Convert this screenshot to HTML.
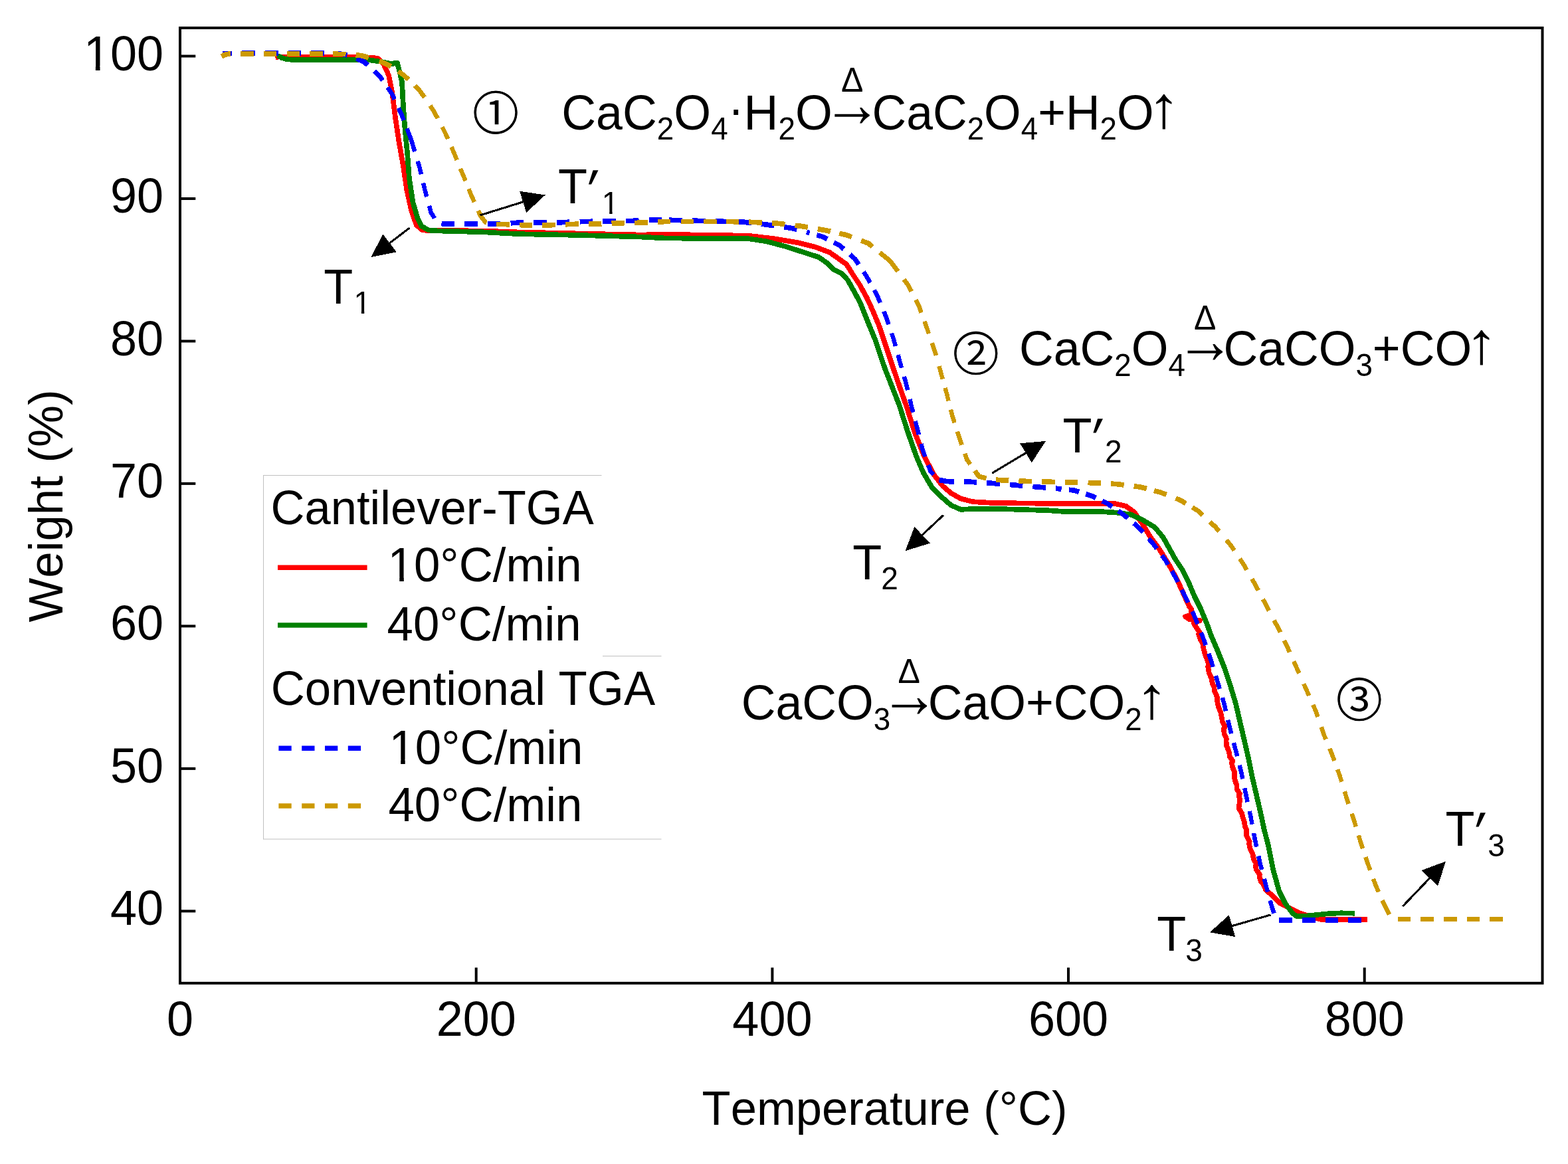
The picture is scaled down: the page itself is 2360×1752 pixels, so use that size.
<!DOCTYPE html>
<html lang="en"><head><meta charset="utf-8"><title>TGA curves</title>
<style>
html,body{margin:0;padding:0;background:#fff;}
body{width:2360px;height:1752px;overflow:hidden;}
svg{display:block;}
text{font-family:'Liberation Sans', sans-serif;fill:#000;font-kerning:none;font-variant-ligatures:none;}
.k{font-family:'Noto Sans CJK SC', 'Noto Sans CJK JP', 'WenQuanYi Zen Hei', 'DejaVu Sans', sans-serif;}
.c{fill:none;stroke-linejoin:round;stroke-linecap:butt;}
</style></head><body>
<svg width="2360" height="1752" viewBox="0 0 2360 1752">
<rect x="0" y="0" width="2360" height="1752" fill="#fff"/>
<defs>
<clipPath id="c72" clipPathUnits="userSpaceOnUse"><rect x="-72" y="-86.40" width="648.0" height="80.12"/><rect x="17.96" y="-6.78" width="6.66" height="35.58"/><rect x="40.04" y="-7.28" width="536.0" height="36.08"/></clipPath>
<clipPath id="c71" clipPathUnits="userSpaceOnUse"><rect x="-70.8" y="-84.96" width="637.2" height="78.77"/><rect x="17.65" y="-6.69" width="6.56" height="35.01"/><rect x="39.38" y="-7.19" width="527.0" height="35.51"/></clipPath>
<clipPath id="c46" clipPathUnits="userSpaceOnUse"><rect x="-46" y="-55.20" width="414.0" height="50.86"/><rect x="11.42" y="-4.84" width="4.37" height="23.24"/><rect x="25.58" y="-5.34" width="342.4" height="23.74"/></clipPath>
</defs>
<g id="curves" shape-rendering="crispEdges">
<polyline class="c" stroke="#ff0000" stroke-width="7.7" points="414.4,86.3 420.0,85.4 500.0,85.4 560.0,86.5 568.7,88.0 577.8,97.2 585.1,113.6 590.5,140.8 595.0,177.1 600.5,213.4 606.9,249.7 612.3,286.0 619.6,318.7 626.8,338.7 635.9,346.5 650.0,347.0 727.0,347.5 781.6,349.5 872.4,351.5 963.0,353.5 1000.0,353.0 1054.5,353.5 1127.0,354.8 1163.4,359.0 1199.7,365.0 1227.0,371.7 1248.8,379.9 1261.5,388.9 1274.2,398.0 1283.2,412.5 1294.1,428.9 1305.0,448.9 1314.1,468.8 1323.2,490.6 1330.5,512.4 1337.7,534.2 1345.0,556.0 1351.7,575.4 1364.4,611.7 1377.1,651.7 1391.6,688.0 1406.1,715.2 1418.9,731.5 1431.6,742.4 1446.1,750.6 1464.3,755.2 1495.1,757.0 1600.0,758.1 1678.1,758.1 1694.4,761.7 1707.1,770.8 1719.8,788.9 1730.7,807.1 1745.3,827.1 1759.8,850.7 1772.5,874.3 1781.6,894.3 1789.7,912.4 1793.3,917.2 1792.9,920.2 1794.0,925.0 1784.0,928.0 1790.0,932.0 1798.4,931.5 1799.5,934.5 1806.0,934.0 1797.0,938.0 1799.7,943.3 1805.6,951.8 1804.1,954.8 1807.0,963.2 1810.5,968.7 1810.5,971.7 1811.7,977.2 1814.6,987.8 1816.0,990.8 1819.1,1000.0 1818.1,1003.0 1819.9,1013.6 1823.6,1021.2 1823.9,1024.2 1825.3,1030.2 1827.1,1033.2 1828.1,1040.8 1832.5,1050.2 1831.8,1053.2 1833.5,1062.6 1837.4,1072.9 1838.1,1075.9 1839.9,1086.2 1843.8,1093.8 1841.9,1096.8 1842.6,1104.3 1845.9,1111.9 1845.5,1114.9 1846.2,1122.5 1848.9,1129.2 1850.0,1132.2 1850.8,1138.8 1855.3,1145.5 1853.8,1148.5 1855.3,1155.2 1857.9,1161.8 1857.9,1164.8 1858.0,1171.5 1860.0,1178.2 1861.5,1181.2 1861.7,1187.9 1865.9,1194.6 1864.8,1197.6 1866.2,1204.2 1864.5,1216.3 1869.5,1224.8 1869.9,1227.8 1872.6,1236.3 1874.3,1245.7 1876.2,1248.7 1876.3,1258.1 1880.7,1266.6 1880.0,1269.6 1881.7,1278.1 1885.1,1284.8 1885.9,1287.8 1887.2,1294.4 1891.5,1300.2 1889.7,1303.2 1890.8,1308.9 1895.9,1316.5 1895.5,1319.5 1898.0,1327.1 1902.1,1331.9 1903.2,1334.9 1905.3,1339.8 1916.2,1348.9 1927.1,1359.8 1941.6,1367.0 1956.2,1374.3 1972.5,1379.8 1990.0,1384.3 2057.8,1384.3"/>
<polyline class="c" stroke="#008000" stroke-width="7.7" points="418.0,83.6 424.0,87.0 430.7,89.0 440.0,90.0 554.0,90.0 572.4,92.7 590.5,96.3 594.0,95.0 597.8,94.5 600.5,104.5 605.0,122.6 606.9,158.9 609.6,195.3 613.2,231.6 615.9,267.9 621.4,304.2 628.6,329.0 634.1,340.0 645.0,346.5 660.0,347.5 727.0,349.3 781.6,352.2 872.4,354.0 963.0,356.5 1000.0,358.4 1090.8,359.3 1127.0,359.3 1154.3,363.5 1181.6,370.8 1208.8,379.5 1232.4,387.1 1245.1,396.2 1254.2,405.3 1266.9,411.6 1276.0,421.6 1285.1,438.0 1294.1,454.3 1301.4,472.5 1308.7,490.6 1317.7,512.4 1325.0,534.2 1332.3,556.0 1339.5,574.1 1353.5,609.9 1366.2,649.8 1378.9,686.2 1389.8,711.6 1402.5,733.4 1417.0,747.9 1431.6,760.6 1446.1,766.9 1464.3,766.0 1504.2,766.0 1576.8,768.2 1600.0,769.9 1659.9,770.2 1681.7,771.7 1701.7,774.4 1718.0,781.7 1738.0,793.5 1750.7,808.9 1759.8,825.3 1768.9,841.6 1779.8,857.9 1788.8,876.1 1797.9,897.9 1807.0,916.0 1816.1,937.8 1823.3,957.8 1831.7,977.2 1842.6,1004.5 1851.7,1031.7 1859.9,1058.9 1866.2,1086.2 1872.6,1113.4 1878.9,1140.7 1884.4,1167.9 1890.7,1195.1 1897.1,1222.4 1902.5,1247.8 1908.9,1272.6 1916.2,1308.9 1925.3,1341.6 1934.4,1359.8 1945.3,1374.3 1950.7,1378.8 1963.4,1378.8 1981.6,1377.0 1999.7,1375.2 2017.9,1374.3 2038.8,1374.7"/>
<polyline class="c" stroke="#0000ff" stroke-width="7.7" stroke-dasharray="19.6 15.1" stroke-dashoffset="5.3" points="335.0,80.5 420.0,80.0 500.0,80.0 515.0,81.5 527.0,83.6 548.8,93.6 555.1,99.4"/>
<polyline class="c" stroke="#0000ff" stroke-width="7.0" points="563.4,107.1 571.4,114.5 576.0,121.1"/>
<polyline class="c" stroke="#0000ff" stroke-width="6.7" points="583.2,131.5 589.6,140.8 593.8,149.7"/>
<polyline class="c" stroke="#0000ff" stroke-width="6.6" points="599.8,162.5 604.1,171.7 607.7,181.0"/>
<polyline class="c" stroke="#0000ff" stroke-width="6.5" points="612.5,193.5 618.7,209.8 624.3,228.1"/>
<polyline class="c" stroke="#0000ff" stroke-width="6.5" points="628.7,242.6 631.4,251.5 633.9,262.2"/>
<polyline class="c" stroke="#0000ff" stroke-width="6.5" points="637.0,275.4 639.5,286.0 642.2,296.1"/>
<polyline class="c" stroke="#0000ff" stroke-width="6.6" points="646.0,309.9 648.6,319.6 654.0,328.5"/>
<polyline class="c" stroke="#0000ff" stroke-width="7.7" stroke-dasharray="19.6 15.1" stroke-dashoffset="0" points="664.5,336.6 672.0,337.1 708.0,337.1 741.0,337.1 778.0,335.3 812.0,335.3 845.0,334.7 878.0,333.5 916.0,333.0 950.0,332.5 981.0,331.1 996.0,331.2"/>
<polyline class="c" stroke="#0000ff" stroke-width="7.7" stroke-dasharray="19.6 15.1" stroke-dashoffset="0" points="1007.3,331.3 1014.5,331.4 1081.7,333.2 1116.0,333.9 1140.0,336.3 1167.0,339.9 1192.5,343.6 1211.5,348.6 1218.5,350.6"/>
<polyline class="c" stroke="#0000ff" stroke-width="7.5" points="1229.3,353.8 1237.9,356.3 1244.9,359.8"/>
<polyline class="c" stroke="#0000ff" stroke-width="7.3" points="1254.9,364.8 1263.3,369.0 1270.0,374.9"/>
<polyline class="c" stroke="#0000ff" stroke-width="7.0" points="1279.2,383.0 1286.9,389.8 1292.3,398.0"/>
<polyline class="c" stroke="#0000ff" stroke-width="6.7" points="1299.7,409.1 1305.0,417.1 1309.6,425.5"/>
<polyline class="c" stroke="#0000ff" stroke-width="6.6" points="1315.8,436.7 1320.5,445.2 1324.8,455.7"/>
<polyline class="c" stroke="#0000ff" stroke-width="6.6" points="1330.2,468.7 1334.0,477.9 1337.5,488.3"/>
<polyline class="c" stroke="#0000ff" stroke-width="6.5" points="1342.0,501.6 1345.0,510.6 1347.9,521.0"/>
<polyline class="c" stroke="#0000ff" stroke-width="6.5" points="1351.5,534.1 1354.0,543.3 1357.0,553.7"/>
<polyline class="c" stroke="#0000ff" stroke-width="6.5" points="1360.8,566.8 1363.5,576.3 1366.1,587.2"/>
<polyline class="c" stroke="#0000ff" stroke-width="6.5" points="1369.4,600.9 1371.7,610.8 1374.3,620.7"/>
<polyline class="c" stroke="#0000ff" stroke-width="6.5" points="1377.7,633.8 1380.4,644.4 1382.9,654.4"/>
<polyline class="c" stroke="#0000ff" stroke-width="6.5" points="1386.4,668.2 1388.9,678.0 1392.4,687.4"/>
<polyline class="c" stroke="#0000ff" stroke-width="6.7" points="1397.1,700.0 1400.7,709.8 1405.4,714.5"/>
<polyline class="c" stroke="#0000ff" stroke-width="7.7" points="1413.4,722.5 1425.2,724.6 1435.6,724.8"/>
<polyline class="c" stroke="#0000ff" stroke-width="7.7" stroke-dasharray="19.6 15.1" stroke-dashoffset="0" points="1450.6,725.1 1458.8,725.2 1488.8,727.0 1522.4,729.7 1555.0,732.5 1589.5,735.2 1597.6,736.1"/>
<polyline class="c" stroke="#0000ff" stroke-width="7.6" points="1608.9,737.2 1617.2,738.1 1624.2,740.4"/>
<polyline class="c" stroke="#0000ff" stroke-width="7.5" points="1634.2,743.6 1642.7,746.3 1649.3,749.5"/>
<polyline class="c" stroke="#0000ff" stroke-width="7.4" points="1659.1,754.2 1667.2,758.1 1673.8,762.7"/>
<polyline class="c" stroke="#0000ff" stroke-width="7.2" points="1683.1,769.1 1690.8,774.4 1697.4,779.9"/>
<polyline class="c" stroke="#0000ff" stroke-width="7.1" points="1706.5,787.6 1713.5,793.5 1720.3,801.2"/>
<polyline class="c" stroke="#0000ff" stroke-width="6.9" points="1728.9,810.8 1735.3,818.0 1741.0,825.7"/>
<polyline class="c" stroke="#0000ff" stroke-width="6.8" points="1748.7,835.9 1754.3,843.4 1758.0,849.8"/>
<polyline class="c" stroke="#0000ff" stroke-width="6.7" points="1763.7,859.5 1768.0,867.0 1772.8,876.2"/>
<polyline class="c" stroke="#0000ff" stroke-width="6.7" points="1778.6,887.5 1782.5,895.2 1788.1,907.1"/>
<polyline class="c" stroke="#0000ff" stroke-width="6.6" points="1794.3,920.2 1797.9,927.8 1802.5,939.2"/>
<polyline class="c" stroke="#0000ff" stroke-width="6.6" points="1807.6,952.1 1810.8,960.0 1814.7,971.1"/>
<polyline class="c" stroke="#0000ff" stroke-width="6.5" points="1819.2,983.8 1822.6,993.6 1825.7,1003.8"/>
<polyline class="c" stroke="#0000ff" stroke-width="6.5" points="1829.8,1017.3 1832.6,1026.3 1835.8,1036.9"/>
<polyline class="c" stroke="#0000ff" stroke-width="6.5" points="1839.7,1050.1 1842.6,1059.8 1845.0,1070.2"/>
<polyline class="c" stroke="#0000ff" stroke-width="6.5" points="1848.2,1083.7 1850.4,1093.4 1853.3,1104.3"/>
<polyline class="c" stroke="#0000ff" stroke-width="6.5" points="1856.9,1118.0 1859.5,1127.9 1862.1,1138.2"/>
<polyline class="c" stroke="#0000ff" stroke-width="6.5" points="1865.5,1151.8 1868.0,1161.5 1870.3,1172.4"/>
<polyline class="c" stroke="#0000ff" stroke-width="6.5" points="1873.2,1186.3 1875.3,1196.0 1877.7,1207.1"/>
<polyline class="c" stroke="#0000ff" stroke-width="6.4" points="1880.7,1220.9 1882.6,1230.0 1884.6,1240.8"/>
<polyline class="c" stroke="#0000ff" stroke-width="6.5" points="1887.1,1254.0 1889.0,1264.5 1891.2,1274.7"/>
<polyline class="c" stroke="#0000ff" stroke-width="6.5" points="1894.2,1288.5 1896.2,1298.0 1899.1,1309.1"/>
<polyline class="c" stroke="#0000ff" stroke-width="6.5" points="1902.7,1322.8 1905.3,1332.5 1908.0,1342.4"/>
<polyline class="c" stroke="#0000ff" stroke-width="6.5" points="1911.7,1355.4 1914.4,1365.2 1917.6,1374.7"/>
<polyline class="c" stroke="#0000ff" stroke-width="7.7" stroke-dasharray="19.6 15.1" stroke-dashoffset="0" points="1925.3,1385.2 2054.2,1385.2"/>
<polyline class="c" stroke="#cc9900" stroke-width="7.7" stroke-dasharray="19.6 15.1" stroke-dashoffset="5.3" points="333.6,85.0 338.0,82.5 345.0,80.9 400.0,80.9 480.0,80.9 518.0,81.5 543.3,83.6 560.2,88.0"/>
<polyline class="c" stroke="#cc9900" stroke-width="7.5" points="570.8,91.9 579.6,95.4 588.6,100.2"/>
<polyline class="c" stroke="#cc9900" stroke-width="7.2" points="599.6,107.2 606.9,112.6 614.9,119.6"/>
<polyline class="c" stroke="#cc9900" stroke-width="6.9" points="624.4,128.7 631.4,136.2 639.0,146.6"/>
<polyline class="c" stroke="#cc9900" stroke-width="6.7" points="647.5,159.0 653.2,168.0 658.8,178.2"/>
<polyline class="c" stroke="#cc9900" stroke-width="6.6" points="665.7,191.3 670.4,200.7 674.1,209.2"/>
<polyline class="c" stroke="#cc9900" stroke-width="6.6" points="679.4,221.3 684.0,231.6 687.6,240.8"/>
<polyline class="c" stroke="#cc9900" stroke-width="6.6" points="692.9,253.8 697.1,263.6 700.6,272.2"/>
<polyline class="c" stroke="#cc9900" stroke-width="6.6" points="705.5,284.5 709.5,294.4 713.9,304.2"/>
<polyline class="c" stroke="#cc9900" stroke-width="6.8" points="719.8,317.2 723.5,325.3 730.7,334.4 732.5,335.0"/>
<polyline class="c" stroke="#cc9900" stroke-width="7.7" stroke-dasharray="19.6 15.1" stroke-dashoffset="0" points="747.1,337.5 756.0,337.4 790.0,338.9 825.0,338.9 860.0,337.4 894.0,337.1 929.0,335.8 963.0,335.3 994.0,334.0 1000.0,333.6 1081.3,333.6"/>
<polyline class="c" stroke="#cc9900" stroke-width="7.7" stroke-dasharray="19.6 15.1" stroke-dashoffset="0" points="1092.6,333.6 1101.7,333.6 1136.0,334.5 1170.7,336.3 1205.0,340.3 1240.6,346.3 1252.2,348.8"/>
<polyline class="c" stroke="#cc9900" stroke-width="7.5" stroke-dasharray="19.6 15.1" stroke-dashoffset="0" points="1263.2,351.3 1273.3,353.5 1306.9,366.2 1315.3,373.0"/>
<polyline class="c" stroke="#cc9900" stroke-width="7.0" points="1324.1,380.1 1339.5,392.6 1351.5,408.5"/>
<polyline class="c" stroke="#cc9900" stroke-width="6.8" points="1360.5,420.6 1366.8,428.9 1371.8,438.6"/>
<polyline class="c" stroke="#cc9900" stroke-width="6.6" points="1378.3,451.3 1383.1,460.7 1386.6,470.5"/>
<polyline class="c" stroke="#cc9900" stroke-width="6.5" stroke-dasharray="19.6 15.1" stroke-dashoffset="0" points="1391.4,483.6 1394.9,493.3 1408.0,531.8 1410.3,540.1"/>
<polyline class="c" stroke="#cc9900" stroke-width="6.5" points="1413.4,551.1 1416.1,560.9 1418.8,570.7"/>
<polyline class="c" stroke="#cc9900" stroke-width="6.5" points="1422.5,583.8 1425.2,593.6 1427.6,603.3"/>
<polyline class="c" stroke="#cc9900" stroke-width="6.5" points="1430.9,616.4 1433.4,626.2 1436.7,636.4"/>
<polyline class="c" stroke="#cc9900" stroke-width="6.5" points="1440.9,649.6 1443.9,658.9 1447.6,669.6"/>
<polyline class="c" stroke="#cc9900" stroke-width="6.7" points="1452.2,682.9 1455.2,691.6 1460.3,698.7"/>
<polyline class="c" stroke="#cc9900" stroke-width="7.3" points="1467.3,708.5 1473.3,717.0 1484.4,720.0"/>
<polyline class="c" stroke="#cc9900" stroke-width="7.7" stroke-dasharray="19.6 15.1" stroke-dashoffset="0" points="1498.8,722.1 1507.8,722.8 1542.3,724.3 1576.8,725.2 1613.1,726.1 1647.2,726.8 1681.7,728.7 1716.2,733.0 1726.0,735.6"/>
<polyline class="c" stroke="#cc9900" stroke-width="7.5" stroke-dasharray="19.6 15.1" stroke-dashoffset="0" points="1737.0,738.5 1747.1,741.2 1776.1,752.6 1784.8,757.9"/>
<polyline class="c" stroke="#cc9900" stroke-width="7.1" stroke-dasharray="19.6 15.1" stroke-dashoffset="0" points="1794.5,763.7 1803.4,769.0 1829.7,793.5 1838.6,804.2"/>
<polyline class="c" stroke="#cc9900" stroke-width="6.8" stroke-dasharray="19.6 15.1" stroke-dashoffset="0" points="1845.9,812.9 1852.4,820.7 1872.4,850.7 1878.6,861.5"/>
<polyline class="c" stroke="#cc9900" stroke-width="6.7" stroke-dasharray="19.6 15.1" stroke-dashoffset="0" points="1884.3,871.4 1889.6,880.6 1906.0,911.5 1912.4,923.7"/>
<polyline class="c" stroke="#cc9900" stroke-width="6.7" points="1917.7,933.7 1922.3,942.4 1926.9,951.8"/>
<polyline class="c" stroke="#cc9900" stroke-width="6.6" stroke-dasharray="19.6 15.1" stroke-dashoffset="0" points="1932.8,963.9 1937.9,974.5 1952.5,1007.2 1957.7,1018.8"/>
<polyline class="c" stroke="#cc9900" stroke-width="6.6" stroke-dasharray="19.6 15.1" stroke-dashoffset="0" points="1962.2,1029.2 1967.0,1039.9 1980.6,1070.7 1985.0,1083.7"/>
<polyline class="c" stroke="#cc9900" stroke-width="6.6" stroke-dasharray="19.6 15.1" stroke-dashoffset="0" points="1988.7,1094.4 1992.4,1105.2 2005.1,1136.1 2009.2,1147.6"/>
<polyline class="c" stroke="#cc9900" stroke-width="6.5" stroke-dasharray="19.6 15.1" stroke-dashoffset="0" points="2013.1,1158.2 2016.9,1168.8 2026.9,1201.5 2031.0,1213.7"/>
<polyline class="c" stroke="#cc9900" stroke-width="6.5" points="2034.6,1224.5 2037.9,1234.5 2040.8,1244.2"/>
<polyline class="c" stroke="#cc9900" stroke-width="6.5" points="2044.8,1257.4 2047.8,1267.2 2051.1,1277.0"/>
<polyline class="c" stroke="#cc9900" stroke-width="6.5" points="2055.4,1290.1 2058.7,1299.9 2062.3,1309.8"/>
<polyline class="c" stroke="#cc9900" stroke-width="6.6" points="2067.0,1322.8 2070.5,1332.5 2074.9,1342.4"/>
<polyline class="c" stroke="#cc9900" stroke-width="6.7" points="2080.7,1355.3 2085.1,1365.2 2091.1,1376.4"/>
<polyline class="c" stroke="#cc9900" stroke-width="7.7" stroke-dasharray="19.6 15.1" stroke-dashoffset="0" points="2103.6,1383.4 2261.7,1383.4"/>
</g>
<g id="axes" stroke="#000" fill="none" stroke-linecap="butt">
<rect x="271.0" y="42.0" width="2050.5" height="1437.8" stroke-width="4"/>
<line x1="271.0" y1="84.5" x2="294.3" y2="84.5" stroke-width="4"/>
<line x1="271.0" y1="299.0" x2="294.3" y2="299.0" stroke-width="4"/>
<line x1="271.0" y1="513.5" x2="294.3" y2="513.5" stroke-width="4"/>
<line x1="271.0" y1="727.9" x2="294.3" y2="727.9" stroke-width="4"/>
<line x1="271.0" y1="942.4" x2="294.3" y2="942.4" stroke-width="4"/>
<line x1="271.0" y1="1156.9" x2="294.3" y2="1156.9" stroke-width="4"/>
<line x1="271.0" y1="1371.4" x2="294.3" y2="1371.4" stroke-width="4"/>
<line x1="716.7" y1="1479.8" x2="716.7" y2="1456.4" stroke-width="4"/>
<line x1="1162.4" y1="1479.8" x2="1162.4" y2="1456.4" stroke-width="4"/>
<line x1="1608.0" y1="1479.8" x2="1608.0" y2="1456.4" stroke-width="4"/>
<line x1="2053.7" y1="1479.8" x2="2053.7" y2="1456.4" stroke-width="4"/>
</g>
<g id="ticklabels">
<text transform="translate(125.9,105.5) scale(1.0,1.04)" font-size="72" text-anchor="start" clip-path="url(#c72)">100</text>
<text transform="translate(246.0,320.0) scale(1.0,1.04)" font-size="72" text-anchor="end">90</text>
<text transform="translate(246.0,534.5) scale(1.0,1.04)" font-size="72" text-anchor="end">80</text>
<text transform="translate(246.0,748.9) scale(1.0,1.04)" font-size="72" text-anchor="end">70</text>
<text transform="translate(246.0,963.4) scale(1.0,1.04)" font-size="72" text-anchor="end">60</text>
<text transform="translate(246.0,1177.9) scale(1.0,1.04)" font-size="72" text-anchor="end">50</text>
<text transform="translate(246.0,1392.4) scale(1.0,1.04)" font-size="72" text-anchor="end">40</text>
<text transform="translate(271.0,1558.5) scale(1.0,1.04)" font-size="72" text-anchor="middle">0</text>
<text transform="translate(716.7,1558.5) scale(1.0,1.04)" font-size="72" text-anchor="middle">200</text>
<text transform="translate(1162.4,1558.5) scale(1.0,1.04)" font-size="72" text-anchor="middle">400</text>
<text transform="translate(1608.0,1558.5) scale(1.0,1.04)" font-size="72" text-anchor="middle">600</text>
<text transform="translate(2053.7,1558.5) scale(1.0,1.04)" font-size="72" text-anchor="middle">800</text>
</g>
<g id="titles">
<text transform="translate(1331.5,1693.1) scale(0.997,1.03)" font-size="70.8" text-anchor="middle">Temperature (°C)</text>
<text transform="translate(94.1,761.4) rotate(-90) scale(1.0,1.03)" font-size="70.8" text-anchor="middle">Weight (%)</text>
</g>
<g id="legend">
<rect x="397" y="715.5" width="508" height="300" fill="#fff" stroke="none"/>
<rect x="397" y="987.5" width="598.5" height="275.5" fill="#fff" stroke="none"/>
<g stroke="#c0c0c0" stroke-width="1" fill="none">
<line x1="396.5" y1="715.5" x2="905.5" y2="715.5"/>
<line x1="396.5" y1="715" x2="396.5" y2="1263.5"/>
<line x1="396.5" y1="1263" x2="995.5" y2="1263"/>
<line x1="907" y1="987.5" x2="995.5" y2="987.5"/>
</g>
<line x1="418" y1="854.2" x2="552.6" y2="854.2" stroke="#ff0000" stroke-width="7.4"/>
<line x1="418" y1="941" x2="552.6" y2="941" stroke="#008000" stroke-width="7.4"/>
<line x1="419.4" y1="1126.2" x2="552.6" y2="1126.2" stroke="#0000ff" stroke-width="7.4" stroke-dasharray="19.3 15.5"/>
<line x1="419.4" y1="1213" x2="552.6" y2="1213" stroke="#cc9900" stroke-width="7.4" stroke-dasharray="19.3 15.5"/>
<text transform="translate(407.5,789.2) scale(0.997,1.03)" font-size="70.8" text-anchor="start">Cantilever-TGA</text>
<text transform="translate(583.6,874.9) scale(1.0,1.03)" font-size="70.8" text-anchor="start" clip-path="url(#c71)">10°C/min</text>
<text transform="translate(582.6,963.5) scale(1.0,1.03)" font-size="70.8" text-anchor="start">40°C/min</text>
<text transform="translate(407.7,1060.9) scale(1.0,1.03)" font-size="70.8" text-anchor="start">Conventional TGA</text>
<text transform="translate(585.5,1149.5) scale(1.0,1.03)" font-size="70.8" text-anchor="start" clip-path="url(#c71)">10°C/min</text>
<text transform="translate(584.5,1235.8) scale(1.0,1.03)" font-size="70.8" text-anchor="start">40°C/min</text>
</g>
<g id="arrows" shape-rendering="crispEdges">
<line x1="722.6" y1="324.0" x2="789.1" y2="303.3" stroke="#000" stroke-width="3.1"/>
<polygon points="820.6,293.5 792.2,320.1 782.1,287.7" fill="#000"/>
<line x1="616.6" y1="342.9" x2="585.0" y2="367.0" stroke="#000" stroke-width="3.1"/>
<polygon points="558.7,387.0 576.2,352.3 596.8,379.3" fill="#000"/>
<line x1="1493.2" y1="712.2" x2="1545.7" y2="680.8" stroke="#000" stroke-width="3.1"/>
<polygon points="1574.0,663.9 1552.7,696.4 1535.2,667.3" fill="#000"/>
<line x1="1420.0" y1="775.3" x2="1386.6" y2="806.6" stroke="#000" stroke-width="3.1"/>
<polygon points="1362.5,829.2 1376.4,792.9 1399.7,817.7" fill="#000"/>
<line x1="1912.4" y1="1377.0" x2="1852.6" y2="1394.2" stroke="#000" stroke-width="3.1"/>
<polygon points="1820.9,1403.3 1849.8,1377.3 1859.2,1410.0" fill="#000"/>
<line x1="2111.2" y1="1364.2" x2="2153.2" y2="1320.3" stroke="#000" stroke-width="3.1"/>
<polygon points="2176.0,1296.5 2164.1,1333.5 2139.5,1310.0" fill="#000"/>
</g>
<g id="tlabels">
<text transform="translate(840.0,306.4) scale(1.0,1.04)" font-size="72" text-anchor="start">T</text>
<text transform="translate(875.5,313.9) skewX(-10.8) scale(1.150,1.167)" font-size="72">′</text>
<text transform="translate(905.8,321.9) scale(1.0,1.04)" font-size="46" text-anchor="start" clip-path="url(#c46)">1</text>
<text transform="translate(487.3,456.8) scale(1.0,1.04)" font-size="72" text-anchor="start">T</text>
<text transform="translate(532.5,472.3) scale(1.0,1.04)" font-size="46" text-anchor="start" clip-path="url(#c46)">1</text>
<text transform="translate(1599.5,680.6) scale(1.0,1.04)" font-size="72" text-anchor="start">T</text>
<text transform="translate(1635.0,688.1) skewX(-10.8) scale(1.150,1.167)" font-size="72">′</text>
<text transform="translate(1663.1,696.1) scale(1.0,1.04)" font-size="46" text-anchor="start">2</text>
<text transform="translate(1283.2,871.8) scale(1.0,1.04)" font-size="72" text-anchor="start">T</text>
<text transform="translate(1326.2,887.3) scale(1.0,1.04)" font-size="46" text-anchor="start">2</text>
<text transform="translate(1741.3,1431.0) scale(1.0,1.04)" font-size="72" text-anchor="start">T</text>
<text transform="translate(1784.3,1446.5) scale(1.0,1.04)" font-size="46" text-anchor="start">3</text>
<text transform="translate(2175.6,1273.0) scale(1.0,1.04)" font-size="72" text-anchor="start">T</text>
<text transform="translate(2211.1,1280.5) skewX(-10.8) scale(1.150,1.167)" font-size="72">′</text>
<text transform="translate(2239.2,1288.5) scale(1.0,1.04)" font-size="46" text-anchor="start">3</text>
</g>
<g id="formulas">
<text class="k" x="711.2" y="195.7" font-size="69.7">①</text>
<circle cx="746.1" cy="169.2" r="30.8" fill="none" stroke="#000" stroke-width="3.3"/>
<text transform="translate(845.3,194.6) scale(0.9966,1.04)" font-size="72">CaC<tspan font-size="46" dy="14.9">2</tspan><tspan dy="-14.9">O</tspan><tspan font-size="46" dy="14.9">4</tspan><tspan dy="-14.9"></tspan><tspan dy="-19.9">·</tspan><tspan dy="5">H</tspan><tspan font-size="46" dy="14.9">2</tspan><tspan dy="-14.9">O</tspan></text>
<text transform="translate(1238.2,190.0) scale(1,1.12)" font-size="88.7">→</text>
<text transform="translate(1266.1,138.3) scale(1,1.02)" font-size="50">Δ</text>
<text transform="translate(1312.6,194.6) scale(0.9936,1.04)" font-size="72">CaC<tspan font-size="46" dy="14.9">2</tspan><tspan dy="-14.9">O</tspan><tspan font-size="46" dy="14.9">4</tspan><tspan dy="-14.9">+H</tspan><tspan font-size="46" dy="14.9">2</tspan><tspan dy="-14.9">O</tspan></text>
<text transform="translate(1726.9,192.0) scale(1.12,1)" font-size="88.7">↑</text>
<text class="k" x="1433.9" y="558.4" font-size="69.7">②</text>
<circle cx="1468.8" cy="531.9" r="30.8" fill="none" stroke="#000" stroke-width="3.3"/>
<text transform="translate(1533.9,550.0) scale(0.995,1.04)" font-size="72">CaC<tspan font-size="46" dy="14.9">2</tspan><tspan dy="-14.9">O</tspan><tspan font-size="46" dy="14.9">4</tspan><tspan dy="-14.9"></tspan></text>
<text transform="translate(1769.4,545.5) scale(1,1.12)" font-size="88.7">→</text>
<text transform="translate(1796.9,496.4) scale(1,1.02)" font-size="50">Δ</text>
<text transform="translate(1841.4,550.0) scale(0.995,1.04)" font-size="72">CaCO<tspan font-size="46" dy="14.9">3</tspan><tspan dy="-14.9">+CO</tspan></text>
<text transform="translate(2205.1,547.4) scale(1.12,1)" font-size="88.7">↑</text>
<text class="k" x="2011.1" y="1079.4" font-size="69.7">③</text>
<circle cx="2046.0" cy="1052.9" r="30.8" fill="none" stroke="#000" stroke-width="3.3"/>
<text transform="translate(1115.7,1083.3) scale(0.995,1.04)" font-size="72">CaCO<tspan font-size="46" dy="14.9">3</tspan><tspan dy="-14.9"></tspan></text>
<text transform="translate(1324.6,1079.1) scale(1,1.12)" font-size="88.7">→</text>
<text transform="translate(1351.5,1028.1) scale(1,1.02)" font-size="50">Δ</text>
<text transform="translate(1396.7,1083.3) scale(0.995,1.04)" font-size="72">CaO+CO<tspan font-size="46" dy="14.9">2</tspan><tspan dy="-14.9"></tspan></text>
<text transform="translate(1708.8,1080.7) scale(1.12,1)" font-size="88.7">↑</text>
</g>
</svg>
</body></html>
